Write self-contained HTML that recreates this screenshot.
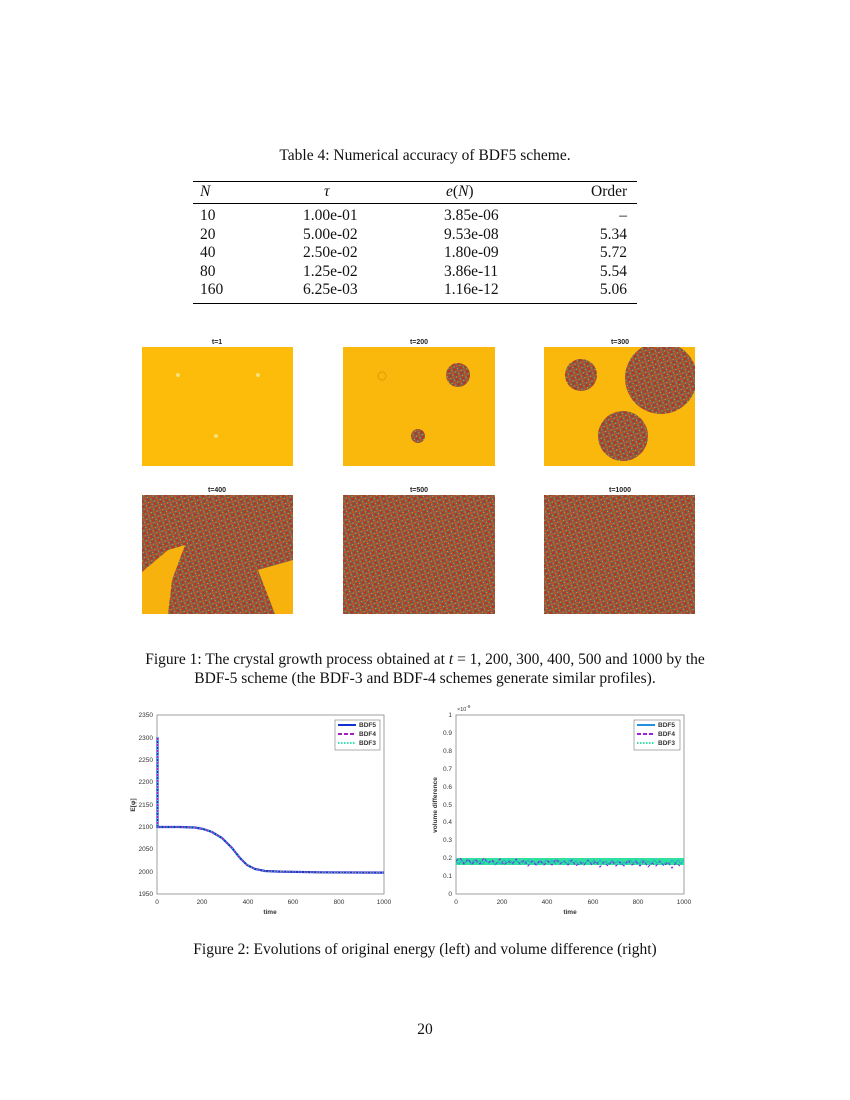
<!DOCTYPE html>
<html><head><meta charset="utf-8"><style>
body{margin:0;background:#fff;}
.pg{position:relative;width:850px;height:1100px;font-family:"Liberation Serif",serif;color:#111;}
.t{position:absolute;white-space:nowrap;}
</style></head><body><div class="pg">
<div class="t" style="left:0;width:850px;text-align:center;top:147px;font-size:15.5px;">Table 4: Numerical accuracy of BDF5 scheme.</div>
<div style="position:absolute;left:193px;width:444px;top:181px;border-top:1px solid #000"></div>
<div style="position:absolute;left:193px;width:444px;top:203px;border-top:0.7px solid #000"></div>
<div style="position:absolute;left:193px;width:444px;top:303px;border-top:1px solid #000"></div>
<div class="t" style="left:200px;top:183px;font-size:15.5px;font-style:italic">N</div>
<div class="t" style="left:324px;top:183px;font-size:15.5px;font-style:italic">τ</div>
<div class="t" style="left:446px;top:183px;font-size:15.5px;"><i>e</i>(<i>N</i>)</div>
<div class="t" style="left:591px;top:183px;font-size:15.5px;">Order</div>
<div class="t" style="left:200px;top:207px;font-size:15.5px;line-height:18.5px">10<br>20<br>40<br>80<br>160</div>
<div class="t" style="left:303px;top:207px;font-size:15.5px;line-height:18.5px">1.00e-01<br>5.00e-02<br>2.50e-02<br>1.25e-02<br>6.25e-03</div>
<div class="t" style="left:444px;top:207px;font-size:15.5px;line-height:18.5px">3.85e-06<br>9.53e-08<br>1.80e-09<br>3.86e-11<br>1.16e-12</div>
<div class="t" style="left:595px;top:207px;font-size:15.5px;line-height:18.5px;text-align:right;width:32px">–<br>5.34<br>5.72<br>5.54<br>5.06</div>

<svg style="position:absolute;left:0;top:0" width="850" height="1100">
<defs>
<pattern id="cr" width="6" height="5.2" patternUnits="userSpaceOnUse" patternTransform="rotate(-15)">
<rect width="6" height="5.2" fill="#6c6254"/>
<circle cx="1.5" cy="1.3" r="1.3" fill="#d02a18"/>
<circle cx="4.5" cy="3.9" r="1.3" fill="#d84818"/>
<circle cx="4.5" cy="1.3" r="0.6" fill="#f0a020"/>
<circle cx="1.5" cy="3.9" r="0.6" fill="#f0a020"/>
</pattern>
<clipPath id="vc"><rect x="456" y="715" width="228" height="179"/></clipPath>
</defs>
<g font-family="Liberation Sans,sans-serif" font-size="7" font-weight="bold" text-anchor="middle" fill="#222">
<text x="217" y="344">t=1</text><text x="419" y="344">t=200</text><text x="620" y="344">t=300</text>
<text x="217" y="492">t=400</text><text x="419" y="492">t=500</text><text x="620" y="492">t=1000</text>
</g>
<rect x="142" y="347" width="151" height="119" fill="#fdbb0a"/>
<circle cx="178" cy="375" r="2" fill="#f6e07a"/><circle cx="258" cy="375" r="2" fill="#f6e07a"/><circle cx="216" cy="436" r="2" fill="#f6e07a"/>
<rect x="343" y="347" width="152" height="119" fill="#fab70c"/>
<circle cx="382" cy="376" r="4" fill="none" stroke="#e39a0a"/>
<circle cx="458" cy="375" r="12" fill="url(#cr)"/><circle cx="418" cy="436" r="7" fill="url(#cr)"/>
<rect x="544" y="347" width="151" height="119" fill="#fab70c"/>
<svg x="544" y="347" width="151" height="119"><circle cx="37" cy="28" r="16" fill="url(#cr)"/><circle cx="117" cy="31" r="36" fill="url(#cr)"/><circle cx="79" cy="89" r="25" fill="url(#cr)"/></svg>
<rect x="142" y="495" width="151" height="119" fill="url(#cr)"/>
<polygon points="142,572 168,550 185,545 172,580 168,614 142,614" fill="#f8b20e"/>
<polygon points="258,570 293,560 293,614 275,614" fill="#f8b20e"/>
<rect x="343" y="495" width="152" height="119" fill="url(#cr)"/>
<rect x="544" y="495" width="151" height="119" fill="url(#cr)"/>
</svg>

<div class="t" style="left:0;width:850px;text-align:center;top:650px;font-size:15.5px;line-height:19px">Figure 1: The crystal growth process obtained at <i>t</i> = 1, 200, 300, 400, 500 and 1000 by the<br>BDF-5 scheme (the BDF-3 and BDF-4 schemes generate similar profiles).</div>

<svg style="position:absolute;left:0;top:0" width="850" height="1100" font-family="Liberation Sans,sans-serif" font-size="6.5" fill="#333">
<rect x="157" y="715" width="227" height="179" fill="#fff" stroke="#888" stroke-width="0.8"/>
<g text-anchor="end">
<text x="153" y="717">2350</text><text x="153" y="740">2300</text><text x="153" y="762">2250</text><text x="153" y="784">2200</text><text x="153" y="807">2150</text><text x="153" y="829">2100</text><text x="153" y="851">2050</text><text x="153" y="874">2000</text><text x="153" y="896">1950</text></g>
<g text-anchor="middle"><text x="157" y="904">0</text><text x="202" y="904">200</text><text x="248" y="904">400</text><text x="293" y="904">600</text><text x="339" y="904">800</text><text x="384" y="904">1000</text>
<text x="270" y="914" font-weight="bold">time</text></g>
<text transform="translate(135,805) rotate(-90)" text-anchor="middle" font-weight="bold">E[φ]</text>
<path d="M157.5,737 L157.5,827 L180,827 L195,827.5 L203,829 L212,832 L222,838 L232,848 L240,858 L247,865 L255,869 L265,871 L280,871.6 L320,872.3 L384,872.6" fill="none" stroke="#1030d0" stroke-width="2.2"/>
<path d="M157.5,737 L157.5,827 L180,827 L195,827.5 L203,829 L212,832 L222,838 L232,848 L240,858 L247,865 L255,869 L265,871 L280,871.6 L320,872.3 L384,872.6" fill="none" stroke="#a020c0" stroke-width="1.6" stroke-dasharray="3,3"/>
<path d="M157.5,737 L157.5,827 L180,827 L195,827.5 L203,829 L212,832 L222,838 L232,848 L240,858 L247,865 L255,869 L265,871 L280,871.6 L320,872.3 L384,872.6" fill="none" stroke="#30e0b0" stroke-width="1.2" stroke-dasharray="1,2"/>
<rect x="335" y="720" width="45" height="30" fill="#fff" stroke="#777" stroke-width="0.6"/>
<line x1="338" y1="725" x2="356" y2="725" stroke="#1030d0" stroke-width="2"/>
<line x1="338" y1="734" x2="356" y2="734" stroke="#a020c0" stroke-width="2" stroke-dasharray="4,2"/>
<line x1="338" y1="743" x2="356" y2="743" stroke="#30e0b0" stroke-width="2" stroke-dasharray="1.5,1.5"/>
<g font-weight="bold"><text x="359" y="727">BDF5</text><text x="359" y="736">BDF4</text><text x="359" y="745">BDF3</text></g>

<rect x="456" y="715" width="228" height="179" fill="#fff" stroke="#888" stroke-width="0.8"/>
<g text-anchor="end">
<text x="452" y="717">1</text><text x="452" y="735">0.9</text><text x="452" y="753">0.8</text><text x="452" y="771">0.7</text><text x="452" y="789">0.6</text><text x="452" y="807">0.5</text><text x="452" y="824">0.4</text><text x="452" y="842">0.3</text><text x="452" y="860">0.2</text><text x="452" y="878">0.1</text><text x="452" y="896">0</text></g>
<text x="457" y="711" font-size="5.5">×10<tspan dy="-3" font-size="4.5">-9</tspan></text>
<g text-anchor="middle"><text x="456" y="904">0</text><text x="502" y="904">200</text><text x="547" y="904">400</text><text x="593" y="904">600</text><text x="638" y="904">800</text><text x="684" y="904">1000</text>
<text x="570" y="914" font-weight="bold">time</text></g>
<text transform="translate(437,805) rotate(-90)" text-anchor="middle" font-weight="bold">volume difference</text>
<g clip-path="url(#vc)">
<rect x="456" y="858" width="228" height="7" fill="#30e0a0"/>
<path d="M456,861 l4,-3 4,6 4,-5 4,5 4,-4 4,4 4,-6 4,5 4,-3 4,4 4,-5 4,6 4,-4 4,3 4,-5 4,5 4,-4 4,6 4,-5 4,4 4,-5 4,5 4,-4 4,4 4,-6 4,5 4,-3 4,4 4,-5 4,6 4,-4 4,3 4,-5 4,5 4,-4 4,6 4,-5 4,4 4,-5 4,5 4,-4 4,4 4,-6 4,5 4,-3 4,4 4,-5 4,6 4,-4 4,3 4,-5 4,5 4,-4 4,6 4,-5 4,3" fill="none" stroke="#8020e0" stroke-width="1" stroke-dasharray="3,2"/>
<path d="M456,862 l3,2 3,-4 3,3 3,-3 3,4 3,-4 3,3 3,-2 3,3 3,-4 3,3 3,-2 3,4 3,-3 3,2 3,-4 3,3 3,-3 3,4 3,-4 3,3 3,-2 3,3 3,-4 3,3 3,-2 3,4 3,-3 3,2 3,-4 3,3 3,-3 3,4 3,-4 3,3 3,-2 3,3 3,-4 3,3 3,-2 3,4 3,-3 3,2 3,-4 3,3 3,-3 3,4 3,-4 3,3 3,-2 3,3 3,-4 3,3 3,-2 3,4 3,-3 3,2 3,-4 3,3 3,-3 3,4 3,-4 3,3 3,-2 3,3 3,-4 3,3 3,-2 3,4 3,-3 3,2 3,-4 3,3 3,-3 3,4 3,-4 3,3 3,-2 3,3" fill="none" stroke="#2090e0" stroke-width="0.8" opacity="0.7"/>
</g>
<rect x="634" y="720" width="46" height="30" fill="#fff" stroke="#777" stroke-width="0.6"/>
<line x1="637" y1="725" x2="655" y2="725" stroke="#2090e0" stroke-width="2"/>
<line x1="637" y1="734" x2="655" y2="734" stroke="#a020e0" stroke-width="2" stroke-dasharray="4,2"/>
<line x1="637" y1="743" x2="655" y2="743" stroke="#30e0a0" stroke-width="2" stroke-dasharray="1.5,1.5"/>
<g font-weight="bold"><text x="658" y="727">BDF5</text><text x="658" y="736">BDF4</text><text x="658" y="745">BDF3</text></g>
</svg>

<div class="t" style="left:0;width:850px;text-align:center;top:941px;font-size:15.5px;">Figure 2: Evolutions of original energy (left) and volume difference (right)</div>
<div class="t" style="left:0;width:850px;text-align:center;top:1021px;font-size:15.5px;">20</div>
</div></body></html>
